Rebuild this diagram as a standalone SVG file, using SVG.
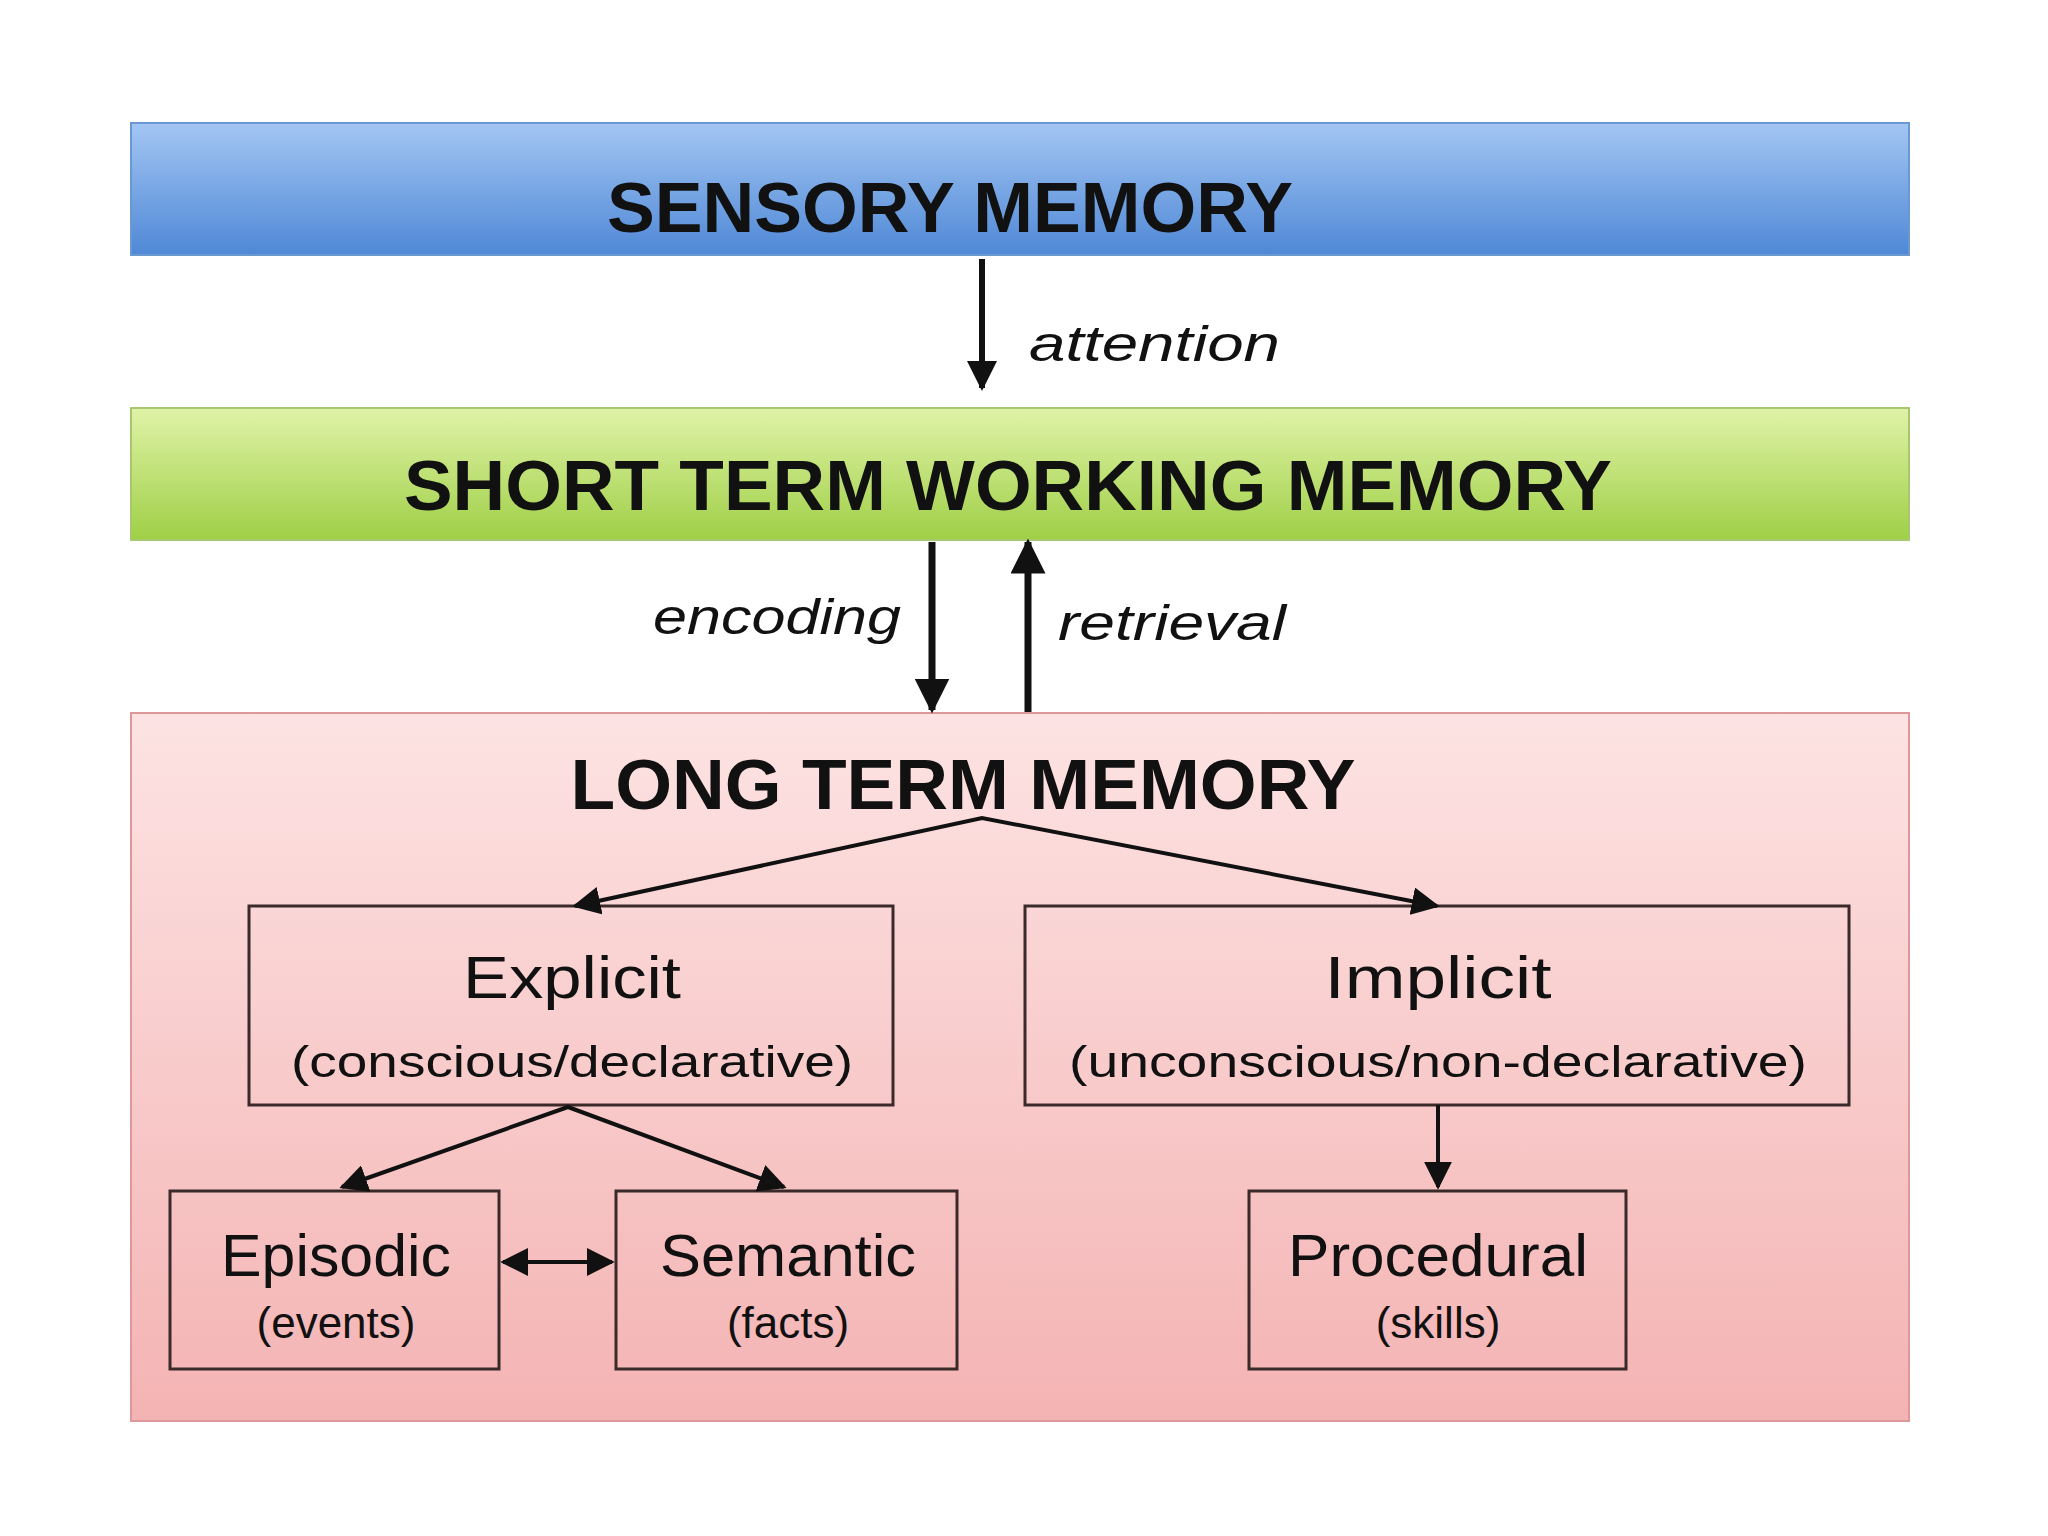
<svg xmlns="http://www.w3.org/2000/svg" width="2048" height="1536" viewBox="0 0 2048 1536">
<defs>
<linearGradient id="gb" x1="0" y1="0" x2="0" y2="1"><stop offset="0" stop-color="#a3c6f3"/><stop offset="1" stop-color="#4f88d6"/></linearGradient>
<linearGradient id="gg" x1="0" y1="0" x2="0" y2="1"><stop offset="0" stop-color="#e0f3a8"/><stop offset="1" stop-color="#9fcf46"/></linearGradient>
<linearGradient id="gr" x1="0" y1="0" x2="0" y2="1"><stop offset="0" stop-color="#fde3e3"/><stop offset="1" stop-color="#f4b3b3"/></linearGradient>
<marker id="ah" viewBox="0 0 10 10" refX="9" refY="5" markerWidth="5" markerHeight="5" orient="auto-start-reverse"><path d="M0,0 L10,5 L0,10 z" fill="#111"/></marker>
<marker id="as" viewBox="0 0 10 10" refX="9" refY="5" markerWidth="7" markerHeight="7" orient="auto-start-reverse"><path d="M0,0 L10,5 L0,10 z" fill="#111"/></marker>
</defs>
<style>
.t{font-family:"Liberation Sans",Arial,sans-serif;fill:#111;text-anchor:middle}
.h{font-weight:bold;font-size:70px}
.l{font-style:italic;font-size:50px;text-anchor:start}
.b{font-size:60px}
.s{font-size:44px}
.bx{fill:none;stroke:#3a2a2a;stroke-width:3}
.c{stroke:#111;fill:none}
</style>
<rect width="2048" height="1536" fill="#fff"/>
<g id="sensory"><rect x="131" y="123" width="1778" height="132" fill="url(#gb)" stroke="#6a98d0" stroke-width="2"/><text class="t h" x="950" y="232" textLength="686" lengthAdjust="spacingAndGlyphs">SENSORY MEMORY</text></g>
<g id="stwm"><rect x="131" y="408" width="1778" height="132" fill="url(#gg)" stroke="#a8c870" stroke-width="2"/><text class="t h" x="1008" y="510" textLength="1208" lengthAdjust="spacingAndGlyphs">SHORT TERM WORKING MEMORY</text></g>
<g id="ltm"><rect x="131" y="713" width="1778" height="708" fill="url(#gr)" stroke="#d99" stroke-width="2"/><text class="t h" x="963" y="809" textLength="785" lengthAdjust="spacingAndGlyphs">LONG TERM MEMORY</text></g>
<g id="explicit"><rect class="bx" x="249" y="906" width="644" height="199"/><text class="t b" x="572" y="998" textLength="218" lengthAdjust="spacingAndGlyphs">Explicit</text><text class="t s" x="572" y="1077" textLength="562" lengthAdjust="spacingAndGlyphs">(conscious/declarative)</text></g>
<g id="implicit"><rect class="bx" x="1025" y="906" width="824" height="199"/><text class="t b" x="1438" y="998" textLength="227" lengthAdjust="spacingAndGlyphs">Implicit</text><text class="t s" x="1438" y="1077" textLength="738" lengthAdjust="spacingAndGlyphs">(unconscious/non-declarative)</text></g>
<g id="episodic"><rect class="bx" x="170" y="1191" width="329" height="178"/><text class="t b" x="336" y="1276" textLength="230" lengthAdjust="spacingAndGlyphs">Episodic</text><text class="t s" x="336" y="1338">(events)</text></g>
<g id="semantic"><rect class="bx" x="616" y="1191" width="341" height="178"/><text class="t b" x="788" y="1276" textLength="256" lengthAdjust="spacingAndGlyphs">Semantic</text><text class="t s" x="788" y="1338">(facts)</text></g>
<g id="procedural"><rect class="bx" x="1249" y="1191" width="377" height="178"/><text class="t b" x="1438" y="1276" textLength="300" lengthAdjust="spacingAndGlyphs">Procedural</text><text class="t s" x="1438" y="1338">(skills)</text></g>
<g id="connectors">
<line class="c" x1="982" y1="259" x2="982" y2="388" stroke-width="6" marker-end="url(#ah)"/>
<text class="t l" x="1029" y="361" textLength="251" lengthAdjust="spacingAndGlyphs">attention</text>
<line class="c" x1="932" y1="542" x2="932" y2="710" stroke-width="7" marker-end="url(#ah)"/>
<line class="c" x1="1028" y1="712" x2="1028" y2="542" stroke-width="7" marker-end="url(#ah)"/>
<text class="t l" x="653" y="634" textLength="248" lengthAdjust="spacingAndGlyphs">encoding</text>
<text class="t l" x="1058" y="640" textLength="228" lengthAdjust="spacingAndGlyphs">retrieval</text>
<polyline class="c" points="575,906 982,818 1437,906" stroke-width="4" marker-start="url(#as)" marker-end="url(#as)"/>
<polyline class="c" points="342,1187 568,1107 784,1187" stroke-width="4" marker-start="url(#as)" marker-end="url(#as)"/>
<line class="c" x1="1438" y1="1105" x2="1438" y2="1187" stroke-width="4" marker-end="url(#as)"/>
<line class="c" x1="503" y1="1262" x2="612" y2="1262" stroke-width="4" marker-start="url(#as)" marker-end="url(#as)"/>
</g>
</svg>
